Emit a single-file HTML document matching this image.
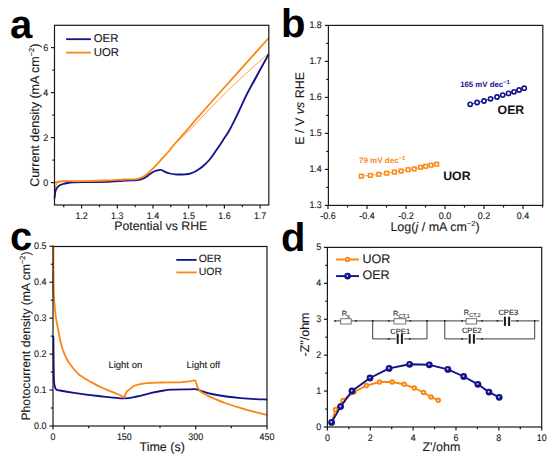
<!DOCTYPE html>
<html><head><meta charset="utf-8"><style>
html,body{margin:0;padding:0;background:#fff;width:550px;height:456px;overflow:hidden}
svg{display:block;font-family:"Liberation Sans", sans-serif;text-rendering:geometricPrecision}
</style></head><body>
<svg width="550" height="456" viewBox="0 0 550 456">
<rect width="550" height="456" fill="#fff"/>
<text x="10.00" y="37.50" font-size="40" text-anchor="start" fill="#000" font-weight="bold" >a</text>
<line x1="81.60" y1="205.00" x2="81.60" y2="208.50" stroke="#1a1a1a" stroke-width="1.2"/>
<line x1="117.30" y1="205.00" x2="117.30" y2="208.50" stroke="#1a1a1a" stroke-width="1.2"/>
<line x1="153.00" y1="205.00" x2="153.00" y2="208.50" stroke="#1a1a1a" stroke-width="1.2"/>
<line x1="188.70" y1="205.00" x2="188.70" y2="208.50" stroke="#1a1a1a" stroke-width="1.2"/>
<line x1="224.40" y1="205.00" x2="224.40" y2="208.50" stroke="#1a1a1a" stroke-width="1.2"/>
<line x1="260.10" y1="205.00" x2="260.10" y2="208.50" stroke="#1a1a1a" stroke-width="1.2"/>
<line x1="63.75" y1="205.00" x2="63.75" y2="207.20" stroke="#1a1a1a" stroke-width="1.2"/>
<line x1="99.45" y1="205.00" x2="99.45" y2="207.20" stroke="#1a1a1a" stroke-width="1.2"/>
<line x1="135.15" y1="205.00" x2="135.15" y2="207.20" stroke="#1a1a1a" stroke-width="1.2"/>
<line x1="170.85" y1="205.00" x2="170.85" y2="207.20" stroke="#1a1a1a" stroke-width="1.2"/>
<line x1="206.55" y1="205.00" x2="206.55" y2="207.20" stroke="#1a1a1a" stroke-width="1.2"/>
<line x1="242.25" y1="205.00" x2="242.25" y2="207.20" stroke="#1a1a1a" stroke-width="1.2"/>
<text transform="translate(81.60,219.00) scale(0.93,1)" font-size="9.6" text-anchor="middle" fill="#1a1a1a" stroke="#1a1a1a" stroke-width="0.12">1.2</text>
<text transform="translate(117.30,219.00) scale(0.93,1)" font-size="9.6" text-anchor="middle" fill="#1a1a1a" stroke="#1a1a1a" stroke-width="0.12">1.3</text>
<text transform="translate(153.00,219.00) scale(0.93,1)" font-size="9.6" text-anchor="middle" fill="#1a1a1a" stroke="#1a1a1a" stroke-width="0.12">1.4</text>
<text transform="translate(188.70,219.00) scale(0.93,1)" font-size="9.6" text-anchor="middle" fill="#1a1a1a" stroke="#1a1a1a" stroke-width="0.12">1.5</text>
<text transform="translate(224.40,219.00) scale(0.93,1)" font-size="9.6" text-anchor="middle" fill="#1a1a1a" stroke="#1a1a1a" stroke-width="0.12">1.6</text>
<text transform="translate(260.10,219.00) scale(0.93,1)" font-size="9.6" text-anchor="middle" fill="#1a1a1a" stroke="#1a1a1a" stroke-width="0.12">1.7</text>
<line x1="54.50" y1="182.60" x2="51.00" y2="182.60" stroke="#1a1a1a" stroke-width="1.2"/>
<line x1="54.50" y1="137.60" x2="51.00" y2="137.60" stroke="#1a1a1a" stroke-width="1.2"/>
<line x1="54.50" y1="92.60" x2="51.00" y2="92.60" stroke="#1a1a1a" stroke-width="1.2"/>
<line x1="54.50" y1="47.60" x2="51.00" y2="47.60" stroke="#1a1a1a" stroke-width="1.2"/>
<line x1="54.50" y1="160.10" x2="52.30" y2="160.10" stroke="#1a1a1a" stroke-width="1.2"/>
<line x1="54.50" y1="115.10" x2="52.30" y2="115.10" stroke="#1a1a1a" stroke-width="1.2"/>
<line x1="54.50" y1="70.10" x2="52.30" y2="70.10" stroke="#1a1a1a" stroke-width="1.2"/>
<text transform="translate(48.20,185.50) scale(0.93,1)" font-size="9.6" text-anchor="end" fill="#1a1a1a" stroke="#1a1a1a" stroke-width="0.12">0</text>
<text transform="translate(48.20,140.50) scale(0.93,1)" font-size="9.6" text-anchor="end" fill="#1a1a1a" stroke="#1a1a1a" stroke-width="0.12">2</text>
<text transform="translate(48.20,95.50) scale(0.93,1)" font-size="9.6" text-anchor="end" fill="#1a1a1a" stroke="#1a1a1a" stroke-width="0.12">4</text>
<text transform="translate(48.20,50.50) scale(0.93,1)" font-size="9.6" text-anchor="end" fill="#1a1a1a" stroke="#1a1a1a" stroke-width="0.12">6</text>
<text x="160.80" y="229.60" font-size="12.3" text-anchor="middle" fill="#1a1a1a" font-weight="normal" stroke="#1a1a1a" stroke-width="0.12" >Potential vs RHE</text>
<text x="39.50" y="115.20" font-size="12.5" text-anchor="middle" fill="#1a1a1a" stroke="#1a1a1a" stroke-width="0.12" transform="rotate(-90 39.50 115.20)">Current density (mA cm<tspan font-size="7.5" dy="-5">−2</tspan><tspan dy="5">)</tspan></text>
<path d="M54.80,191.00 L55.60,186.00 L57.00,183.00 L60.00,182.00 L65.00,181.40" stroke="#fc8612" stroke-width="1.0" fill="none" stroke-linejoin="round" stroke-linecap="round" />
<path d="M172.90,146.00 C175.75,143.25 180.73,138.83 190.00,129.50 C199.27,120.17 215.45,102.68 228.50,90.00 C241.55,77.32 261.67,59.50 268.30,53.40" stroke="#fc8612" stroke-width="0.8" fill="none" stroke-linejoin="round" stroke-linecap="round" />
<path d="M254.00,82.50 L268.30,54.00" stroke="#12128c" stroke-width="0.7" fill="none" stroke-linejoin="round" stroke-linecap="round" stroke-dasharray="1.2 0.8"/>
<path d="M54.60,198.00 C54.73,196.93 55.02,193.27 55.40,191.60 C55.78,189.93 56.23,189.02 56.90,188.00 C57.57,186.98 58.38,186.17 59.40,185.50 C60.42,184.83 61.68,184.42 63.00,184.00 C64.32,183.58 65.55,183.27 67.30,183.00 C69.05,182.73 71.05,182.55 73.50,182.40 C75.95,182.25 76.75,182.20 82.00,182.10 C87.25,182.00 97.83,182.05 105.00,181.80 C112.17,181.55 119.70,180.90 125.00,180.60 C130.30,180.30 133.80,180.33 136.80,180.00 C139.80,179.67 141.30,179.22 143.00,178.60 C144.70,177.98 145.83,177.07 147.00,176.30 C148.17,175.53 148.67,174.88 150.00,174.00 C151.33,173.12 153.50,171.67 155.00,171.00 C156.50,170.33 157.92,170.17 159.00,170.00 C160.08,169.83 160.50,169.70 161.50,170.00 C162.50,170.30 163.58,171.22 165.00,171.80 C166.42,172.38 168.33,173.08 170.00,173.50 C171.67,173.92 173.33,174.13 175.00,174.30 C176.67,174.47 178.33,174.50 180.00,174.50 C181.67,174.50 183.33,174.43 185.00,174.30 C186.67,174.17 188.07,174.30 190.00,173.70 C191.93,173.10 194.40,171.98 196.60,170.70 C198.80,169.42 201.02,167.87 203.20,166.00 C205.38,164.13 207.52,162.12 209.70,159.50 C211.88,156.88 214.10,153.48 216.30,150.30 C218.50,147.12 220.65,143.87 222.90,140.40 C225.15,136.93 227.20,134.23 229.80,129.50 C232.40,124.77 235.63,117.92 238.50,112.00 C241.37,106.08 243.83,100.25 247.00,94.00 C250.17,87.75 253.95,81.00 257.50,74.50 C261.05,68.00 266.50,58.25 268.30,55.00" stroke="#12128c" stroke-width="1.8" fill="none" stroke-linejoin="round" stroke-linecap="round" />
<path d="M54.80,183.00 C55.15,182.80 55.32,182.10 56.90,181.80 C58.48,181.50 60.12,181.30 64.30,181.20 C68.48,181.10 75.22,181.32 82.00,181.20 C88.78,181.08 97.83,180.78 105.00,180.50 C112.17,180.22 120.15,179.70 125.00,179.50 C129.85,179.30 131.83,179.45 134.10,179.30 C136.37,179.15 137.08,179.02 138.60,178.60 C140.12,178.18 141.68,177.65 143.20,176.80 C144.72,175.95 146.18,174.77 147.70,173.50 C149.22,172.23 150.78,170.70 152.30,169.20 C153.82,167.70 155.28,166.13 156.80,164.50 C158.32,162.87 159.28,161.73 161.40,159.40 C163.52,157.07 167.58,152.73 169.50,150.50 C171.42,148.27 169.48,150.00 172.90,146.00 C176.32,142.00 181.88,135.75 190.00,126.50 C198.12,117.25 208.55,105.17 221.60,90.50 C234.65,75.83 260.52,47.17 268.30,38.50" stroke="#fc8612" stroke-width="1.8" fill="none" stroke-linejoin="round" stroke-linecap="round" />
<rect x="54.50" y="25.30" width="214.30" height="179.70" fill="none" stroke="#1a1a1a" stroke-width="1.2"/>
<line x1="66.10" y1="39.20" x2="90.90" y2="39.20" stroke="#12128c" stroke-width="1.8"/>
<line x1="66.10" y1="52.60" x2="90.90" y2="52.60" stroke="#fc8612" stroke-width="1.8"/>
<text x="93.70" y="42.30" font-size="11.4" text-anchor="start" fill="#1a1a1a" font-weight="normal" stroke="#1a1a1a" stroke-width="0.12" >OER</text>
<text x="93.70" y="56.00" font-size="11.4" text-anchor="start" fill="#1a1a1a" font-weight="normal" stroke="#1a1a1a" stroke-width="0.12" >UOR</text>
<text x="281.00" y="37.40" font-size="40" text-anchor="start" fill="#000" font-weight="bold" >b</text>
<line x1="328.00" y1="205.40" x2="328.00" y2="208.90" stroke="#1a1a1a" stroke-width="1.2"/>
<line x1="367.00" y1="205.40" x2="367.00" y2="208.90" stroke="#1a1a1a" stroke-width="1.2"/>
<line x1="406.00" y1="205.40" x2="406.00" y2="208.90" stroke="#1a1a1a" stroke-width="1.2"/>
<line x1="445.00" y1="205.40" x2="445.00" y2="208.90" stroke="#1a1a1a" stroke-width="1.2"/>
<line x1="484.00" y1="205.40" x2="484.00" y2="208.90" stroke="#1a1a1a" stroke-width="1.2"/>
<line x1="523.00" y1="205.40" x2="523.00" y2="208.90" stroke="#1a1a1a" stroke-width="1.2"/>
<line x1="347.50" y1="205.40" x2="347.50" y2="207.60" stroke="#1a1a1a" stroke-width="1.2"/>
<line x1="386.50" y1="205.40" x2="386.50" y2="207.60" stroke="#1a1a1a" stroke-width="1.2"/>
<line x1="425.50" y1="205.40" x2="425.50" y2="207.60" stroke="#1a1a1a" stroke-width="1.2"/>
<line x1="464.50" y1="205.40" x2="464.50" y2="207.60" stroke="#1a1a1a" stroke-width="1.2"/>
<line x1="503.50" y1="205.40" x2="503.50" y2="207.60" stroke="#1a1a1a" stroke-width="1.2"/>
<line x1="542.50" y1="205.40" x2="542.50" y2="207.60" stroke="#1a1a1a" stroke-width="1.2"/>
<text transform="translate(328.00,219.00) scale(0.93,1)" font-size="9.6" text-anchor="middle" fill="#1a1a1a" stroke="#1a1a1a" stroke-width="0.12">-0.6</text>
<text transform="translate(367.00,219.00) scale(0.93,1)" font-size="9.6" text-anchor="middle" fill="#1a1a1a" stroke="#1a1a1a" stroke-width="0.12">-0.4</text>
<text transform="translate(406.00,219.00) scale(0.93,1)" font-size="9.6" text-anchor="middle" fill="#1a1a1a" stroke="#1a1a1a" stroke-width="0.12">-0.2</text>
<text transform="translate(445.00,219.00) scale(0.93,1)" font-size="9.6" text-anchor="middle" fill="#1a1a1a" stroke="#1a1a1a" stroke-width="0.12">0.0</text>
<text transform="translate(484.00,219.00) scale(0.93,1)" font-size="9.6" text-anchor="middle" fill="#1a1a1a" stroke="#1a1a1a" stroke-width="0.12">0.2</text>
<text transform="translate(523.00,219.00) scale(0.93,1)" font-size="9.6" text-anchor="middle" fill="#1a1a1a" stroke="#1a1a1a" stroke-width="0.12">0.4</text>
<line x1="328.40" y1="205.40" x2="324.90" y2="205.40" stroke="#1a1a1a" stroke-width="1.2"/>
<line x1="328.40" y1="169.40" x2="324.90" y2="169.40" stroke="#1a1a1a" stroke-width="1.2"/>
<line x1="328.40" y1="133.40" x2="324.90" y2="133.40" stroke="#1a1a1a" stroke-width="1.2"/>
<line x1="328.40" y1="97.40" x2="324.90" y2="97.40" stroke="#1a1a1a" stroke-width="1.2"/>
<line x1="328.40" y1="61.40" x2="324.90" y2="61.40" stroke="#1a1a1a" stroke-width="1.2"/>
<line x1="328.40" y1="25.40" x2="324.90" y2="25.40" stroke="#1a1a1a" stroke-width="1.2"/>
<line x1="328.40" y1="187.40" x2="326.20" y2="187.40" stroke="#1a1a1a" stroke-width="1.2"/>
<line x1="328.40" y1="151.40" x2="326.20" y2="151.40" stroke="#1a1a1a" stroke-width="1.2"/>
<line x1="328.40" y1="115.40" x2="326.20" y2="115.40" stroke="#1a1a1a" stroke-width="1.2"/>
<line x1="328.40" y1="79.40" x2="326.20" y2="79.40" stroke="#1a1a1a" stroke-width="1.2"/>
<line x1="328.40" y1="43.40" x2="326.20" y2="43.40" stroke="#1a1a1a" stroke-width="1.2"/>
<text transform="translate(321.80,208.30) scale(0.93,1)" font-size="9.6" text-anchor="end" fill="#1a1a1a" stroke="#1a1a1a" stroke-width="0.12">1.3</text>
<text transform="translate(321.80,172.30) scale(0.93,1)" font-size="9.6" text-anchor="end" fill="#1a1a1a" stroke="#1a1a1a" stroke-width="0.12">1.4</text>
<text transform="translate(321.80,136.30) scale(0.93,1)" font-size="9.6" text-anchor="end" fill="#1a1a1a" stroke="#1a1a1a" stroke-width="0.12">1.5</text>
<text transform="translate(321.80,100.30) scale(0.93,1)" font-size="9.6" text-anchor="end" fill="#1a1a1a" stroke="#1a1a1a" stroke-width="0.12">1.6</text>
<text transform="translate(321.80,64.30) scale(0.93,1)" font-size="9.6" text-anchor="end" fill="#1a1a1a" stroke="#1a1a1a" stroke-width="0.12">1.7</text>
<text transform="translate(321.80,28.30) scale(0.93,1)" font-size="9.6" text-anchor="end" fill="#1a1a1a" stroke="#1a1a1a" stroke-width="0.12">1.8</text>
<text x="435.00" y="231.00" font-size="12.5" text-anchor="middle" fill="#1a1a1a" font-weight="normal" stroke="#1a1a1a" stroke-width="0.12" >Log(<tspan font-style="italic">j</tspan> / mA cm<tspan font-size="7.5" dy="-5">−2</tspan><tspan dy="5">)</tspan></text>
<text x="303.60" y="108.30" font-size="12.5" text-anchor="middle" fill="#1a1a1a" stroke="#1a1a1a" stroke-width="0.12" transform="rotate(-90 303.60 108.30)">E / V <tspan font-style="italic">vs</tspan> RHE</text>
<path d="M361.30,176.20 L370.30,175.40 L378.80,174.30 L386.70,173.20 L394.40,172.10 L401.10,171.00 L408.10,169.70 L414.20,168.90 L420.40,167.30 L425.70,166.30 L431.00,165.20 L436.70,164.20" stroke="#fc8612" stroke-width="0.8" fill="none" stroke-linejoin="round" stroke-linecap="round" />
<rect x="359.50" y="174.40" width="3.6" height="3.6" fill="white" stroke="#fc8612" stroke-width="1.5"/>
<rect x="368.50" y="173.60" width="3.6" height="3.6" fill="white" stroke="#fc8612" stroke-width="1.5"/>
<rect x="377.00" y="172.50" width="3.6" height="3.6" fill="white" stroke="#fc8612" stroke-width="1.5"/>
<rect x="384.90" y="171.40" width="3.6" height="3.6" fill="white" stroke="#fc8612" stroke-width="1.5"/>
<rect x="392.60" y="170.30" width="3.6" height="3.6" fill="white" stroke="#fc8612" stroke-width="1.5"/>
<rect x="399.30" y="169.20" width="3.6" height="3.6" fill="white" stroke="#fc8612" stroke-width="1.5"/>
<rect x="406.30" y="167.90" width="3.6" height="3.6" fill="white" stroke="#fc8612" stroke-width="1.5"/>
<rect x="412.40" y="167.10" width="3.6" height="3.6" fill="white" stroke="#fc8612" stroke-width="1.5"/>
<rect x="418.60" y="165.50" width="3.6" height="3.6" fill="white" stroke="#fc8612" stroke-width="1.5"/>
<rect x="423.90" y="164.50" width="3.6" height="3.6" fill="white" stroke="#fc8612" stroke-width="1.5"/>
<rect x="429.20" y="163.40" width="3.6" height="3.6" fill="white" stroke="#fc8612" stroke-width="1.5"/>
<rect x="434.90" y="162.40" width="3.6" height="3.6" fill="white" stroke="#fc8612" stroke-width="1.5"/>
<path d="M470.20,104.30 L477.10,102.50 L484.00,101.00 L490.50,98.80 L497.00,97.00 L502.70,95.10 L508.50,93.40 L514.00,91.80 L519.10,90.00 L524.20,88.20" stroke="#12128c" stroke-width="0.8" fill="none" stroke-linejoin="round" stroke-linecap="round" />
<circle cx="470.20" cy="104.30" r="2.1" fill="white" stroke="#12128c" stroke-width="1.6"/>
<circle cx="477.10" cy="102.50" r="2.1" fill="white" stroke="#12128c" stroke-width="1.6"/>
<circle cx="484.00" cy="101.00" r="2.1" fill="white" stroke="#12128c" stroke-width="1.6"/>
<circle cx="490.50" cy="98.80" r="2.1" fill="white" stroke="#12128c" stroke-width="1.6"/>
<circle cx="497.00" cy="97.00" r="2.1" fill="white" stroke="#12128c" stroke-width="1.6"/>
<circle cx="502.70" cy="95.10" r="2.1" fill="white" stroke="#12128c" stroke-width="1.6"/>
<circle cx="508.50" cy="93.40" r="2.1" fill="white" stroke="#12128c" stroke-width="1.6"/>
<circle cx="514.00" cy="91.80" r="2.1" fill="white" stroke="#12128c" stroke-width="1.6"/>
<circle cx="519.10" cy="90.00" r="2.1" fill="white" stroke="#12128c" stroke-width="1.6"/>
<circle cx="524.20" cy="88.20" r="2.1" fill="white" stroke="#12128c" stroke-width="1.6"/>
<text x="460.20" y="87.40" font-size="7.8" text-anchor="start" fill="#12128c" font-weight="bold" >165 mV dec<tspan font-size="6" dy="-3.5">−1</tspan></text>
<text x="359.00" y="163.10" font-size="8.0" text-anchor="start" fill="#fc8612" font-weight="bold" >79 mV dec<tspan font-size="6" dy="-3.5">−1</tspan></text>
<text x="497.60" y="113.50" font-size="12.3" text-anchor="start" fill="#111" font-weight="bold" >OER</text>
<text x="443.20" y="180.00" font-size="12.3" text-anchor="start" fill="#111" font-weight="bold" >UOR</text>
<rect x="328.40" y="25.40" width="214.40" height="180.00" fill="none" stroke="#1a1a1a" stroke-width="1.2"/>
<text x="10.00" y="250.00" font-size="40" text-anchor="start" fill="#000" font-weight="bold" >c</text>
<line x1="53.00" y1="426.00" x2="53.00" y2="429.50" stroke="#1a1a1a" stroke-width="1.2"/>
<line x1="124.33" y1="426.00" x2="124.33" y2="429.50" stroke="#1a1a1a" stroke-width="1.2"/>
<line x1="195.67" y1="426.00" x2="195.67" y2="429.50" stroke="#1a1a1a" stroke-width="1.2"/>
<line x1="267.00" y1="426.00" x2="267.00" y2="429.50" stroke="#1a1a1a" stroke-width="1.2"/>
<line x1="88.67" y1="426.00" x2="88.67" y2="428.20" stroke="#1a1a1a" stroke-width="1.2"/>
<line x1="160.00" y1="426.00" x2="160.00" y2="428.20" stroke="#1a1a1a" stroke-width="1.2"/>
<line x1="231.33" y1="426.00" x2="231.33" y2="428.20" stroke="#1a1a1a" stroke-width="1.2"/>
<text transform="translate(53.00,440.30) scale(0.93,1)" font-size="9.6" text-anchor="middle" fill="#1a1a1a" stroke="#1a1a1a" stroke-width="0.12">0</text>
<text transform="translate(124.33,440.30) scale(0.93,1)" font-size="9.6" text-anchor="middle" fill="#1a1a1a" stroke="#1a1a1a" stroke-width="0.12">150</text>
<text transform="translate(195.67,440.30) scale(0.93,1)" font-size="9.6" text-anchor="middle" fill="#1a1a1a" stroke="#1a1a1a" stroke-width="0.12">300</text>
<text transform="translate(267.00,440.30) scale(0.93,1)" font-size="9.6" text-anchor="middle" fill="#1a1a1a" stroke="#1a1a1a" stroke-width="0.12">450</text>
<line x1="53.00" y1="426.00" x2="49.50" y2="426.00" stroke="#1a1a1a" stroke-width="1.2"/>
<line x1="53.00" y1="390.05" x2="49.50" y2="390.05" stroke="#1a1a1a" stroke-width="1.2"/>
<line x1="53.00" y1="354.10" x2="49.50" y2="354.10" stroke="#1a1a1a" stroke-width="1.2"/>
<line x1="53.00" y1="318.15" x2="49.50" y2="318.15" stroke="#1a1a1a" stroke-width="1.2"/>
<line x1="53.00" y1="282.20" x2="49.50" y2="282.20" stroke="#1a1a1a" stroke-width="1.2"/>
<line x1="53.00" y1="246.25" x2="49.50" y2="246.25" stroke="#1a1a1a" stroke-width="1.2"/>
<line x1="53.00" y1="408.02" x2="50.80" y2="408.02" stroke="#1a1a1a" stroke-width="1.2"/>
<line x1="53.00" y1="372.07" x2="50.80" y2="372.07" stroke="#1a1a1a" stroke-width="1.2"/>
<line x1="53.00" y1="336.12" x2="50.80" y2="336.12" stroke="#1a1a1a" stroke-width="1.2"/>
<line x1="53.00" y1="300.17" x2="50.80" y2="300.17" stroke="#1a1a1a" stroke-width="1.2"/>
<line x1="53.00" y1="264.23" x2="50.80" y2="264.23" stroke="#1a1a1a" stroke-width="1.2"/>
<text transform="translate(46.50,428.90) scale(0.93,1)" font-size="9.6" text-anchor="end" fill="#1a1a1a" stroke="#1a1a1a" stroke-width="0.12">0.0</text>
<text transform="translate(46.50,392.95) scale(0.93,1)" font-size="9.6" text-anchor="end" fill="#1a1a1a" stroke="#1a1a1a" stroke-width="0.12">0.1</text>
<text transform="translate(46.50,357.00) scale(0.93,1)" font-size="9.6" text-anchor="end" fill="#1a1a1a" stroke="#1a1a1a" stroke-width="0.12">0.2</text>
<text transform="translate(46.50,321.05) scale(0.93,1)" font-size="9.6" text-anchor="end" fill="#1a1a1a" stroke="#1a1a1a" stroke-width="0.12">0.3</text>
<text transform="translate(46.50,285.10) scale(0.93,1)" font-size="9.6" text-anchor="end" fill="#1a1a1a" stroke="#1a1a1a" stroke-width="0.12">0.4</text>
<text transform="translate(46.50,249.15) scale(0.93,1)" font-size="9.6" text-anchor="end" fill="#1a1a1a" stroke="#1a1a1a" stroke-width="0.12">0.5</text>
<text x="162.20" y="450.50" font-size="12.5" text-anchor="middle" fill="#1a1a1a" font-weight="normal" stroke="#1a1a1a" stroke-width="0.12" >Time (s)</text>
<text x="30.40" y="336.00" font-size="12.2" text-anchor="middle" fill="#1a1a1a" stroke="#1a1a1a" stroke-width="0.12" transform="rotate(-90 30.40 336.00)">Photocurrent density (mA cm<tspan font-size="7.5" dy="-5">−2</tspan><tspan dy="5">)</tspan></text>
<path d="M53.40,336.70 C53.47,343.08 53.62,366.95 53.80,375.00 C53.98,383.05 54.13,382.62 54.50,385.00 C54.87,387.38 55.08,388.38 56.00,389.30 C56.92,390.22 57.00,389.90 60.00,390.50 C63.00,391.10 67.62,391.98 74.00,392.90 C80.38,393.82 90.03,395.08 98.30,396.00 C106.57,396.92 117.15,398.32 123.60,398.40 C130.05,398.48 132.38,397.42 137.00,396.50 C141.62,395.58 146.80,393.90 151.30,392.90 C155.80,391.90 160.72,391.05 164.00,390.50 C167.28,389.95 166.67,389.80 171.00,389.60 C175.33,389.40 185.75,389.35 190.00,389.30 C194.25,389.25 194.57,389.00 196.50,389.30 C198.43,389.60 199.05,390.32 201.60,391.10 C204.15,391.88 207.67,393.10 211.80,394.00 C215.93,394.90 221.55,395.82 226.40,396.50 C231.25,397.18 236.05,397.67 240.90,398.10 C245.75,398.53 251.25,398.87 255.50,399.10 C259.75,399.33 264.58,399.43 266.40,399.50" stroke="#12128c" stroke-width="1.8" fill="none" stroke-linejoin="round" stroke-linecap="round" />
<path d="M53.30,273.00 L53.30,292.00" stroke="#12128c" stroke-width="1.2" fill="none" stroke-linejoin="round" stroke-linecap="round" />
<path d="M53.40,246.00 C53.43,252.50 53.47,276.00 53.60,285.00 C53.73,294.00 53.85,294.83 54.20,300.00 C54.55,305.17 55.05,311.08 55.70,316.00 C56.35,320.92 57.07,324.33 58.10,329.50 C59.13,334.67 60.35,341.88 61.90,347.00 C63.45,352.12 65.40,356.53 67.40,360.20 C69.40,363.87 71.90,366.53 73.90,369.00 C75.90,371.47 78.02,373.78 79.40,375.00 C80.78,376.22 81.57,375.87 82.20,376.30 C82.83,376.73 81.90,376.73 83.20,377.60 C84.50,378.47 87.20,379.97 90.00,381.50 C92.80,383.03 96.67,385.18 100.00,386.80 C103.33,388.42 106.67,389.83 110.00,391.20 C113.33,392.57 117.70,393.97 120.00,395.00 C122.30,396.03 123.03,397.15 123.80,397.40 C124.57,397.65 124.23,397.23 124.60,396.50 C124.97,395.77 125.43,394.00 126.00,393.00 C126.57,392.00 127.17,391.28 128.00,390.50 C128.83,389.72 129.83,389.13 131.00,388.30 C132.17,387.47 132.42,386.35 135.00,385.50 C137.58,384.65 142.33,383.70 146.50,383.20 C150.67,382.70 154.42,382.65 160.00,382.50 C165.58,382.35 175.00,382.50 180.00,382.30 C185.00,382.10 187.73,381.60 190.00,381.30 C192.27,381.00 192.68,380.57 193.60,380.50 C194.52,380.43 194.88,379.87 195.50,380.90 C196.12,381.93 196.52,385.00 197.30,386.70 C198.08,388.40 199.00,389.88 200.20,391.10 C201.40,392.32 202.57,392.92 204.50,394.00 C206.43,395.08 208.15,396.02 211.80,397.60 C215.45,399.18 221.55,401.75 226.40,403.50 C231.25,405.25 236.05,406.65 240.90,408.10 C245.75,409.55 251.25,411.08 255.50,412.20 C259.75,413.32 264.58,414.37 266.40,414.80" stroke="#fc8612" stroke-width="1.8" fill="none" stroke-linejoin="round" stroke-linecap="round" />
<rect x="53.00" y="246.50" width="214.00" height="179.50" fill="none" stroke="#1a1a1a" stroke-width="1.2"/>
<line x1="176.30" y1="259.90" x2="196.60" y2="259.90" stroke="#12128c" stroke-width="1.8"/>
<line x1="176.30" y1="272.40" x2="196.60" y2="272.40" stroke="#fc8612" stroke-width="1.8"/>
<text x="198.70" y="262.00" font-size="10.5" text-anchor="start" fill="#1a1a1a" font-weight="normal" stroke="#1a1a1a" stroke-width="0.12" >OER</text>
<text x="198.70" y="274.50" font-size="10.5" text-anchor="start" fill="#1a1a1a" font-weight="normal" stroke="#1a1a1a" stroke-width="0.12" >UOR</text>
<text x="108.40" y="367.60" font-size="9.5" text-anchor="start" fill="#1a1a1a" font-weight="normal" stroke="#1a1a1a" stroke-width="0.12" >Light on</text>
<text x="186.50" y="368.40" font-size="9.5" text-anchor="start" fill="#1a1a1a" font-weight="normal" stroke="#1a1a1a" stroke-width="0.12" >Light off</text>
<text x="281.00" y="251.00" font-size="40" text-anchor="start" fill="#000" font-weight="bold" >d</text>
<line x1="327.40" y1="427.00" x2="327.40" y2="430.50" stroke="#1a1a1a" stroke-width="1.2"/>
<line x1="370.26" y1="427.00" x2="370.26" y2="430.50" stroke="#1a1a1a" stroke-width="1.2"/>
<line x1="413.12" y1="427.00" x2="413.12" y2="430.50" stroke="#1a1a1a" stroke-width="1.2"/>
<line x1="455.98" y1="427.00" x2="455.98" y2="430.50" stroke="#1a1a1a" stroke-width="1.2"/>
<line x1="498.84" y1="427.00" x2="498.84" y2="430.50" stroke="#1a1a1a" stroke-width="1.2"/>
<line x1="541.70" y1="427.00" x2="541.70" y2="430.50" stroke="#1a1a1a" stroke-width="1.2"/>
<line x1="348.83" y1="427.00" x2="348.83" y2="429.20" stroke="#1a1a1a" stroke-width="1.2"/>
<line x1="391.69" y1="427.00" x2="391.69" y2="429.20" stroke="#1a1a1a" stroke-width="1.2"/>
<line x1="434.55" y1="427.00" x2="434.55" y2="429.20" stroke="#1a1a1a" stroke-width="1.2"/>
<line x1="477.41" y1="427.00" x2="477.41" y2="429.20" stroke="#1a1a1a" stroke-width="1.2"/>
<line x1="520.27" y1="427.00" x2="520.27" y2="429.20" stroke="#1a1a1a" stroke-width="1.2"/>
<text transform="translate(327.40,440.60) scale(0.93,1)" font-size="9.6" text-anchor="middle" fill="#1a1a1a" stroke="#1a1a1a" stroke-width="0.12">0</text>
<text transform="translate(370.26,440.60) scale(0.93,1)" font-size="9.6" text-anchor="middle" fill="#1a1a1a" stroke="#1a1a1a" stroke-width="0.12">2</text>
<text transform="translate(413.12,440.60) scale(0.93,1)" font-size="9.6" text-anchor="middle" fill="#1a1a1a" stroke="#1a1a1a" stroke-width="0.12">4</text>
<text transform="translate(455.98,440.60) scale(0.93,1)" font-size="9.6" text-anchor="middle" fill="#1a1a1a" stroke="#1a1a1a" stroke-width="0.12">6</text>
<text transform="translate(498.84,440.60) scale(0.93,1)" font-size="9.6" text-anchor="middle" fill="#1a1a1a" stroke="#1a1a1a" stroke-width="0.12">8</text>
<text transform="translate(541.70,440.60) scale(0.93,1)" font-size="9.6" text-anchor="middle" fill="#1a1a1a" stroke="#1a1a1a" stroke-width="0.12">10</text>
<line x1="327.40" y1="427.00" x2="323.90" y2="427.00" stroke="#1a1a1a" stroke-width="1.2"/>
<line x1="327.40" y1="391.08" x2="323.90" y2="391.08" stroke="#1a1a1a" stroke-width="1.2"/>
<line x1="327.40" y1="355.16" x2="323.90" y2="355.16" stroke="#1a1a1a" stroke-width="1.2"/>
<line x1="327.40" y1="319.24" x2="323.90" y2="319.24" stroke="#1a1a1a" stroke-width="1.2"/>
<line x1="327.40" y1="283.32" x2="323.90" y2="283.32" stroke="#1a1a1a" stroke-width="1.2"/>
<line x1="327.40" y1="247.40" x2="323.90" y2="247.40" stroke="#1a1a1a" stroke-width="1.2"/>
<line x1="327.40" y1="409.04" x2="325.20" y2="409.04" stroke="#1a1a1a" stroke-width="1.2"/>
<line x1="327.40" y1="373.12" x2="325.20" y2="373.12" stroke="#1a1a1a" stroke-width="1.2"/>
<line x1="327.40" y1="337.20" x2="325.20" y2="337.20" stroke="#1a1a1a" stroke-width="1.2"/>
<line x1="327.40" y1="301.28" x2="325.20" y2="301.28" stroke="#1a1a1a" stroke-width="1.2"/>
<line x1="327.40" y1="265.36" x2="325.20" y2="265.36" stroke="#1a1a1a" stroke-width="1.2"/>
<text transform="translate(321.20,429.90) scale(0.93,1)" font-size="9.6" text-anchor="end" fill="#1a1a1a" stroke="#1a1a1a" stroke-width="0.12">0</text>
<text transform="translate(321.20,393.98) scale(0.93,1)" font-size="9.6" text-anchor="end" fill="#1a1a1a" stroke="#1a1a1a" stroke-width="0.12">1</text>
<text transform="translate(321.20,358.06) scale(0.93,1)" font-size="9.6" text-anchor="end" fill="#1a1a1a" stroke="#1a1a1a" stroke-width="0.12">2</text>
<text transform="translate(321.20,322.14) scale(0.93,1)" font-size="9.6" text-anchor="end" fill="#1a1a1a" stroke="#1a1a1a" stroke-width="0.12">3</text>
<text transform="translate(321.20,286.22) scale(0.93,1)" font-size="9.6" text-anchor="end" fill="#1a1a1a" stroke="#1a1a1a" stroke-width="0.12">4</text>
<text transform="translate(321.20,250.30) scale(0.93,1)" font-size="9.6" text-anchor="end" fill="#1a1a1a" stroke="#1a1a1a" stroke-width="0.12">5</text>
<text x="441.40" y="451.30" font-size="12.5" text-anchor="middle" fill="#1a1a1a" font-weight="normal" stroke="#1a1a1a" stroke-width="0.12" >Z'/ohm</text>
<text x="308.80" y="334.50" font-size="12.5" text-anchor="middle" fill="#1a1a1a" stroke="#1a1a1a" stroke-width="0.12" transform="rotate(-90 308.80 334.50)">-Z"/ohm</text>
<line x1="335.00" y1="320.90" x2="372.70" y2="320.90" stroke="#3c3c3c" stroke-width="1.0"/>
<line x1="372.70" y1="320.90" x2="539.30" y2="320.90" stroke="#3c3c3c" stroke-width="1.0"/>
<line x1="372.70" y1="320.90" x2="372.70" y2="338.90" stroke="#3c3c3c" stroke-width="1.0"/>
<line x1="427.00" y1="320.90" x2="427.00" y2="338.90" stroke="#3c3c3c" stroke-width="1.0"/>
<line x1="372.70" y1="338.90" x2="427.00" y2="338.90" stroke="#3c3c3c" stroke-width="1.0"/>
<line x1="444.80" y1="320.90" x2="444.80" y2="338.90" stroke="#3c3c3c" stroke-width="1.0"/>
<line x1="534.70" y1="320.90" x2="534.70" y2="338.90" stroke="#3c3c3c" stroke-width="1.0"/>
<line x1="444.80" y1="338.90" x2="534.70" y2="338.90" stroke="#3c3c3c" stroke-width="1.0"/>
<rect x="340.7" y="318.7" width="10.5" height="5.3" fill="white" stroke="#666" stroke-width="0.9"/>
<rect x="394" y="318.7" width="11.8" height="5.3" fill="white" stroke="#666" stroke-width="0.9"/>
<rect x="466.1" y="318.7" width="10.5" height="5.3" fill="white" stroke="#666" stroke-width="0.9"/>
<rect x="395.80" y="333.40" width="8" height="11.00" fill="white"/>
<line x1="397.70" y1="333.90" x2="397.70" y2="343.90" stroke="#1a1a1a" stroke-width="2.0"/>
<line x1="401.90" y1="333.90" x2="401.90" y2="343.90" stroke="#1a1a1a" stroke-width="2.0"/>
<rect x="467.80" y="333.65" width="8" height="10.50" fill="white"/>
<line x1="469.70" y1="334.15" x2="469.70" y2="343.65" stroke="#1a1a1a" stroke-width="2.0"/>
<line x1="473.90" y1="334.15" x2="473.90" y2="343.65" stroke="#1a1a1a" stroke-width="2.0"/>
<rect x="503.00" y="316.20" width="8" height="10.20" fill="white"/>
<line x1="504.90" y1="316.70" x2="504.90" y2="325.90" stroke="#1a1a1a" stroke-width="2.0"/>
<line x1="509.10" y1="316.70" x2="509.10" y2="325.90" stroke="#1a1a1a" stroke-width="2.0"/>
<circle cx="335" cy="320.9" r="0.9" fill="#222"/>
<circle cx="356" cy="320.9" r="0.9" fill="#222"/>
<circle cx="372.7" cy="320.9" r="0.9" fill="#222"/>
<circle cx="388.8" cy="320.9" r="0.9" fill="#222"/>
<circle cx="410.4" cy="320.9" r="0.9" fill="#222"/>
<circle cx="427" cy="320.9" r="0.9" fill="#222"/>
<circle cx="444.8" cy="320.9" r="0.9" fill="#222"/>
<circle cx="462.1" cy="320.9" r="0.9" fill="#222"/>
<circle cx="482" cy="320.9" r="0.9" fill="#222"/>
<circle cx="497.5" cy="320.9" r="0.9" fill="#222"/>
<circle cx="517.4" cy="320.9" r="0.9" fill="#222"/>
<circle cx="534.7" cy="320.9" r="0.9" fill="#222"/>
<circle cx="388.8" cy="338.9" r="0.9" fill="#222"/>
<circle cx="409.7" cy="338.9" r="0.9" fill="#222"/>
<circle cx="462.1" cy="338.9" r="0.9" fill="#222"/>
<circle cx="482" cy="338.9" r="0.9" fill="#222"/>
<text x="341.70" y="316.30" font-size="7.5" text-anchor="start" fill="#333" font-weight="normal" stroke="#333" stroke-width="0.12" >R<tspan font-size="5.5" dy="1.5">s</tspan></text>
<text x="393.00" y="315.50" font-size="7.5" text-anchor="start" fill="#333" font-weight="normal" stroke="#333" stroke-width="0.12" >R<tspan font-size="5.5" dy="2">CT,1</tspan></text>
<text x="463.80" y="315.00" font-size="7.5" text-anchor="start" fill="#333" font-weight="normal" stroke="#333" stroke-width="0.12" >R<tspan font-size="5.5" dy="2">CT,2</tspan></text>
<text x="400.20" y="333.60" font-size="7.6" text-anchor="middle" fill="#222" font-weight="normal" stroke="#222" stroke-width="0.12" >CPE1</text>
<text x="471.80" y="332.70" font-size="7.6" text-anchor="middle" fill="#222" font-weight="normal" stroke="#222" stroke-width="0.12" >CPE2</text>
<text x="508.30" y="315.40" font-size="7.6" text-anchor="middle" fill="#222" font-weight="normal" stroke="#222" stroke-width="0.12" >CPE3</text>
<path d="M332.80,418.50 L335.60,409.60 L343.00,400.60 L354.00,392.00 L366.40,385.60 L379.50,382.00 L392.10,382.00 L404.10,384.30 L414.30,388.00 L423.50,392.50 L431.10,397.00 L438.20,400.30" stroke="#fc8612" stroke-width="1.9" fill="none" stroke-linejoin="round" stroke-linecap="round" />
<circle cx="335.60" cy="409.60" r="1.8" fill="#fff" stroke="#fc8612" stroke-width="1.95"/>
<circle cx="343.00" cy="400.60" r="1.8" fill="#fff" stroke="#fc8612" stroke-width="1.95"/>
<circle cx="354.00" cy="392.00" r="1.8" fill="#fff" stroke="#fc8612" stroke-width="1.95"/>
<circle cx="366.40" cy="385.60" r="1.8" fill="#fff" stroke="#fc8612" stroke-width="1.95"/>
<circle cx="379.50" cy="382.00" r="1.8" fill="#fff" stroke="#fc8612" stroke-width="1.95"/>
<circle cx="392.10" cy="382.00" r="1.8" fill="#fff" stroke="#fc8612" stroke-width="1.95"/>
<circle cx="404.10" cy="384.30" r="1.8" fill="#fff" stroke="#fc8612" stroke-width="1.95"/>
<circle cx="414.30" cy="388.00" r="1.8" fill="#fff" stroke="#fc8612" stroke-width="1.95"/>
<circle cx="423.50" cy="392.50" r="1.8" fill="#fff" stroke="#fc8612" stroke-width="1.95"/>
<circle cx="431.10" cy="397.00" r="1.8" fill="#fff" stroke="#fc8612" stroke-width="1.95"/>
<circle cx="438.20" cy="400.30" r="1.8" fill="#fff" stroke="#fc8612" stroke-width="1.95"/>
<path d="M331.60,422.40 L340.60,406.60 L352.00,391.00 L370.00,378.00 L389.10,368.40 L409.60,364.30 L429.30,364.80 L447.90,369.40 L463.70,376.50 L477.90,384.30 L489.00,392.10 L499.20,397.30" stroke="#12128c" stroke-width="1.9" fill="none" stroke-linejoin="round" stroke-linecap="round" />
<circle cx="331.60" cy="422.40" r="3.4" fill="#12128c"/><circle cx="331.30" cy="422.00" r="0.95" fill="#d0d0f0"/>
<circle cx="340.60" cy="406.60" r="3.4" fill="#12128c"/><circle cx="340.30" cy="406.20" r="0.95" fill="#d0d0f0"/>
<circle cx="352.00" cy="391.00" r="3.4" fill="#12128c"/><circle cx="351.70" cy="390.60" r="0.95" fill="#d0d0f0"/>
<circle cx="370.00" cy="378.00" r="3.4" fill="#12128c"/><circle cx="369.70" cy="377.60" r="0.95" fill="#d0d0f0"/>
<circle cx="389.10" cy="368.40" r="3.4" fill="#12128c"/><circle cx="388.80" cy="368.00" r="0.95" fill="#d0d0f0"/>
<circle cx="409.60" cy="364.30" r="3.4" fill="#12128c"/><circle cx="409.30" cy="363.90" r="0.95" fill="#d0d0f0"/>
<circle cx="429.30" cy="364.80" r="3.4" fill="#12128c"/><circle cx="429.00" cy="364.40" r="0.95" fill="#d0d0f0"/>
<circle cx="447.90" cy="369.40" r="3.4" fill="#12128c"/><circle cx="447.60" cy="369.00" r="0.95" fill="#d0d0f0"/>
<circle cx="463.70" cy="376.50" r="3.4" fill="#12128c"/><circle cx="463.40" cy="376.10" r="0.95" fill="#d0d0f0"/>
<circle cx="477.90" cy="384.30" r="3.4" fill="#12128c"/><circle cx="477.60" cy="383.90" r="0.95" fill="#d0d0f0"/>
<circle cx="489.00" cy="392.10" r="3.4" fill="#12128c"/><circle cx="488.70" cy="391.70" r="0.95" fill="#d0d0f0"/>
<circle cx="499.20" cy="397.30" r="3.4" fill="#12128c"/><circle cx="498.90" cy="396.90" r="0.95" fill="#d0d0f0"/>
<rect x="327.40" y="247.40" width="214.30" height="179.60" fill="none" stroke="#1a1a1a" stroke-width="1.2"/>
<line x1="336.10" y1="259.50" x2="359.00" y2="259.50" stroke="#fc8612" stroke-width="1.9"/>
<circle cx="347.6" cy="259.5" r="1.8" fill="#fff" stroke="#fc8612" stroke-width="1.95"/>
<line x1="336.10" y1="276.10" x2="359.00" y2="276.10" stroke="#12128c" stroke-width="1.9"/>
<circle cx="347.6" cy="276.1" r="3.4" fill="#12128c"/><circle cx="347.3" cy="275.7" r="0.95" fill="#d0d0f0"/>
<text x="362.50" y="262.70" font-size="12.5" text-anchor="start" fill="#1a1a1a" font-weight="normal" stroke="#1a1a1a" stroke-width="0.12" >UOR</text>
<text x="362.50" y="279.00" font-size="12.5" text-anchor="start" fill="#1a1a1a" font-weight="normal" stroke="#1a1a1a" stroke-width="0.12" >OER</text>
</svg>
</body></html>
